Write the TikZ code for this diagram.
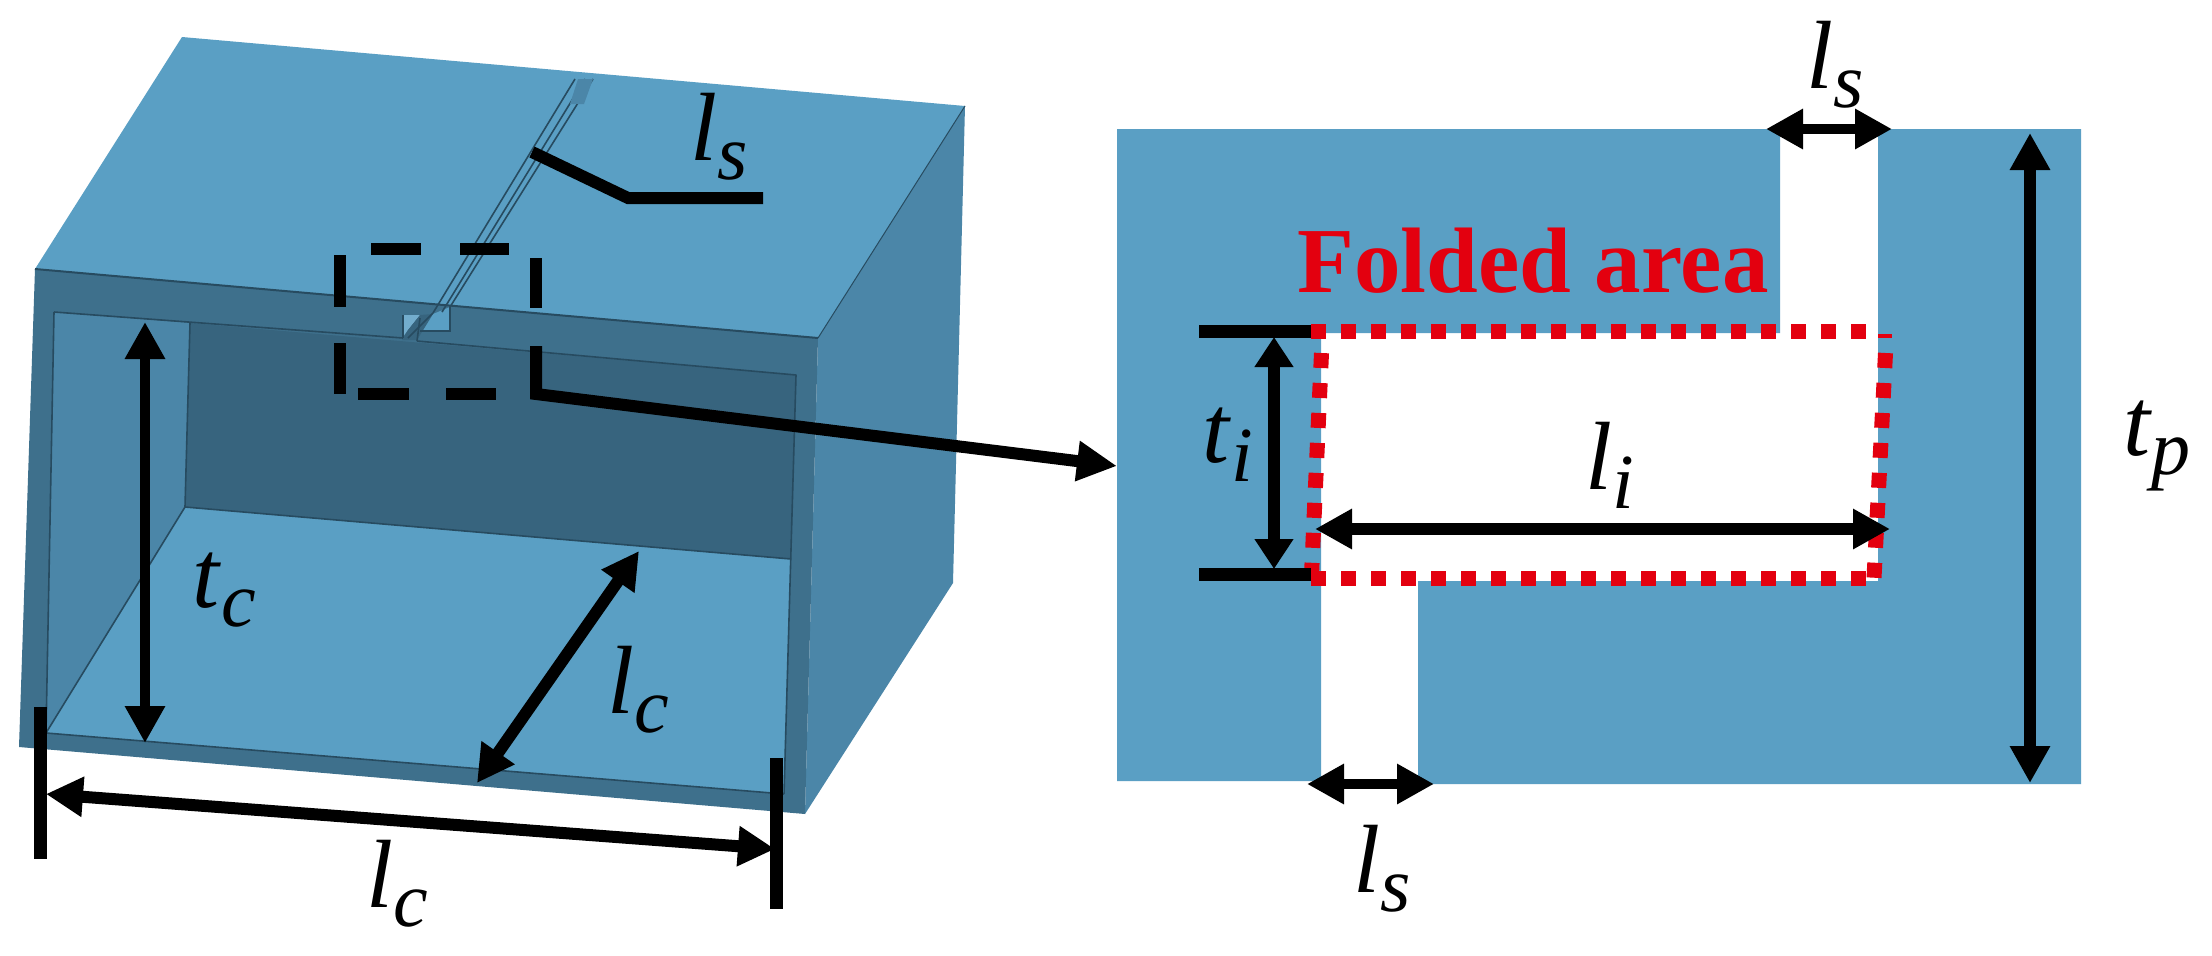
\documentclass[tikz,border=0pt]{standalone}
\usepackage{fontspec}
\setmainfont{Liberation Serif}
\usetikzlibrary{arrows.meta}
\definecolor{topblue}{HTML}{5A9FC4}
\definecolor{sideblue}{HTML}{4B86A8}
\definecolor{frameblue}{HTML}{3E708C}
\definecolor{backblue}{HTML}{37647E}
\definecolor{edgeblue}{HTML}{274B60}
\definecolor{foldred}{HTML}{E3000F}
\newcommand{\dimlbl}[2]{{\fontsize{97}{97}\selectfont\textit{#1}}\raisebox{-19pt}{\fontsize{78}{78}\selectfont\textit{#2}}}
\tikzset{
  face/.style={draw=edgeblue,line width=1.6pt,line join=round},
  thick black/.style={draw=black,line width=12pt},
  dimarrow/.style={draw=black,line width=#1,{Triangle[length=37pt,width=38pt]}-{Triangle[length=37pt,width=38pt]}},
  dimarrow/.default=11pt,
  shortarrow/.style={draw=black,line width=12pt,{Triangle[length=30pt,width=37pt]}-{Triangle[length=30pt,width=37pt]}},
  tick/.style={draw=black,line width=13pt},
  boxdash/.style={draw=black,line width=12.5pt},
  dotted red/.style={foldred,line width=15pt,dash pattern=on 15pt off 15pt},
  lbl/.style={inner sep=0pt,outer sep=0pt,anchor=center,text=black},
}
\begin{document}
\begin{tikzpicture}[x=1pt,y=-1pt]
\useasboundingbox (0,0) rectangle (2212,956);
\fill[white] (0,0) rectangle (2212,956);
% ---- box corners
\coordinate (TL) at (182,37);
\coordinate (TR) at (965,106);
\coordinate (FR) at (818,338);
\coordinate (FL) at (35,269);
\coordinate (BR) at (805,814);
\coordinate (BL) at (19,747);
\coordinate (RB) at (953,583);
\coordinate (IL) at (54,312);
\coordinate (IR) at (796,375);
\coordinate (JR) at (784,794);
\coordinate (JL) at (46,733);
\coordinate (KL) at (190,323);
\coordinate (KR) at (791,559);
\coordinate (KB) at (185,507);
% ---- faces
\fill[topblue] (TL) -- (TR) -- (FR) -- (FL) -- cycle;
\fill[sideblue] (TR) -- (RB) -- (BR) -- (FR) -- cycle;
\draw[edgeblue,line width=1pt] (TR) -- (FR);
\fill[frameblue] (FL) -- (FR) -- (BR) -- (BL) -- cycle;
\fill[sideblue] (IL) -- (KL) -- (KB) -- (JL) -- cycle;
\fill[backblue] (KL) -- (IR) -- (KR) -- (KB) -- cycle;
\fill[topblue] (KB) -- (KR) -- (JR) -- (JL) -- cycle;
\draw[edgeblue,line width=2pt] (FL) -- (FR);
% ---- notch in the top band
\fill[topblue] (423,317) -- (433,314) -- (450,307) -- (450,330) -- (420,330) -- cycle;
\fill[topblue!85!white] (403,315) -- (420,315) -- (408,330) -- (402,338) -- cycle;
\fill[backblue] (408,330) -- (420,315) -- (433,314) -- (417,340) -- (402,340) -- cycle;
\draw[face] (IL) -- (403,338);
\draw[face] (417,341) -- (IR) -- (JR);
\draw[face] (IL) -- (JL);
\draw[face] (KL) -- (KB) -- (KR);
\draw[face] (KB) -- (JL) -- (JR);
% ---- slot
\draw[edgeblue,line width=1.6pt] (575,79) -- (433,313);
\draw[edgeblue,line width=1.6pt] (585,79) -- (442,312);
\draw[edgeblue,line width=1.6pt] (593,79) -- (450,307) -- (450,331) -- (420,331);
\draw[edgeblue,line width=1.6pt] (403,315) -- (403,338);
\draw[edgeblue,line width=1.6pt] (433,313) -- (408,338);
\draw[edgeblue,line width=1.6pt] (420,318) -- (417,341);
\fill[sideblue] (578,79) -- (593,79) -- (584,104) -- (570,104) -- cycle;
% ---- dashed box
\draw[boxdash] (371,249) -- (421,249);
\draw[boxdash] (460,249) -- (509,249);
\draw[boxdash] (340,255) -- (340,307);
\draw[boxdash] (340,343) -- (340,394);
\draw[boxdash] (358,394) -- (409,394);
\draw[boxdash] (446,394) -- (496,394);
\draw[boxdash] (536,258) -- (536,308);
% ---- leaders
\coordinate (lead a) at (536,346);
\coordinate (lead b) at (536,394);
\coordinate (lead c) at (1117,466);
\draw[thick black,-{Triangle[length=40pt,width=38pt]}] (lead a) -- (lead b) -- (lead c);
\coordinate (ls a) at (532,152);
\coordinate (ls b) at (628,198);
\coordinate (ls c) at (763,198);
\draw[thick black] (ls a) -- (ls b) -- (ls c);
% ---- box dimensions
\coordinate (tc a) at (145,322);
\coordinate (tc b) at (145,743);
\draw[dimarrow=10pt] (tc a) -- (tc b);
\coordinate (lc a) at (639,551);
\coordinate (lc b) at (477,783);
\draw[dimarrow=12pt] (lc a) -- (lc b);
\coordinate (lh a) at (46,794);
\coordinate (lh b) at (775,849);
\draw[dimarrow=12pt] (lh a) -- (lh b);
\coordinate (tick la) at (40,707);
\coordinate (tick lb) at (40,859);
\coordinate (tick ra) at (776,758);
\coordinate (tick rb) at (776,909);
\draw[tick] (tick la) -- (tick lb);
\draw[tick] (tick ra) -- (tick rb);
% ---- plate
\fill[topblue] (1117,129) -- (1780,129) -- (1780,333) -- (1321,333) -- (1321,781) -- (1117,781) -- cycle;
\fill[topblue] (1878,129) -- (2081,129) -- (2081,784) -- (1418,784) -- (1418,581) -- (1878,581) -- cycle;
\draw[dotted red] (1311,331) -- (1866,331);
\draw[foldred,line width=4pt] (1878,336) -- (1892,336);
\draw[dotted red] (1885.5,353) -- (1874,578);
\draw[dotted red] (1311,578.5) -- (1866,578.5);
\draw[dotted red] (1321.5,353) -- (1311,586);
% ---- plate dimensions
\coordinate (ttop a) at (1199,331.5);
\coordinate (ttop b) at (1311,331.5);
\coordinate (tbot a) at (1199,574);
\coordinate (tbot b) at (1311,574);
\draw[tick] (ttop a) -- (ttop b);
\draw[tick] (tbot a) -- (tbot b);
\coordinate (ti a) at (1274,337);
\coordinate (ti b) at (1274,569);
\draw[shortarrow] (ti a) -- (ti b);
\coordinate (tp a) at (2030,133);
\coordinate (tp b) at (2030,783);
\draw[dimarrow=12pt] (tp a) -- (tp b);
\coordinate (li a) at (1315,529);
\coordinate (li b) at (1890,529);
\draw[dimarrow=12pt] (li a) -- (li b);
\coordinate (ls1 a) at (1766,129);
\coordinate (ls1 b) at (1892,129);
\draw[dimarrow=10pt] (ls1 a) -- (ls1 b);
\coordinate (ls2 a) at (1307,784);
\coordinate (ls2 b) at (1434,784);
\draw[dimarrow=10pt] (ls2 a) -- (ls2 b);
% ---- labels
\node[lbl] (label ls main) at (719,137) {\dimlbl{l}{s}};
\node[lbl] (label tc) at (224,590) {\dimlbl{t}{c}};
\node[lbl] (label lc diag) at (638,690) {\dimlbl{l}{c}};
\node[lbl] (label lc low) at (397,884) {\dimlbl{l}{c}};
\node[lbl] (label ls top) at (1835,65) {\dimlbl{l}{s}};
\node[lbl] (label ls bot) at (1382,869) {\dimlbl{l}{s}};
\node[lbl] (label ti) at (1228,445) {\dimlbl{t}{i}};
\node[lbl] (label li) at (1610,465) {\dimlbl{l}{i}};
\node[lbl] (label tp) at (2157,446) {\dimlbl{t}{p}};
\node[inner sep=0pt,text=foldred,anchor=center] (label fold) at (1533,261) {\fontsize{93}{93}\selectfont\bfseries Folded area};
\end{tikzpicture}
\end{document}
